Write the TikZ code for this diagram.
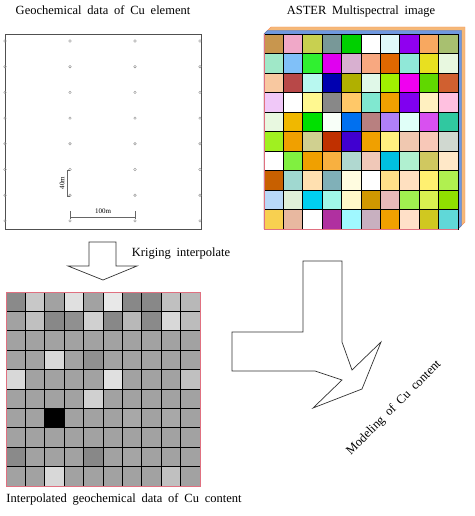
\documentclass[tikz,border=0pt]{standalone}
\usepackage{fontspec}
\setmainfont{Liberation Serif}
\usepackage{xcolor}
\usetikzlibrary{positioning}
\definecolor{framered}{HTML}{E07080}
\definecolor{bandorange}{HTML}{F5B878}
\definecolor{bandblue}{HTML}{6F98E0}
\definecolor{boxgray}{HTML}{505050}
\newcommand{\lblfont}{\fontsize{12.5}{14}\selectfont\spaceskip=5.8pt plus 1pt\relax}

\begin{document}
\begin{tikzpicture}[x=1pt, y=-1pt, node distance=0.3cm,
		lbl/.style={font=\lblfont, inner sep=0pt},
		smalllbl/.style={font=\fontsize{7}{8}\selectfont, inner sep=0.5pt},
		cell/.style={draw=black, line width=0.7pt},
		sample/.style={draw=black!45, line width=0.4pt},
		scalebar/.style={draw=black!60, line width=0.4pt},
		bigarrow/.style={draw=black!80, line width=0.7pt, fill=white, line join=miter}]
		\useasboundingbox (0,0) rectangle (474,516);
		
		% geochemical samples
		\node[draw=boxgray, line width=0.8pt, minimum width=196pt, minimum height=195pt, inner sep=0pt] (geo) at (103,131.5) {};
		\node[lbl, above=19pt of geo] (geo-title) {Geochemical data of Cu element};
		\foreach \xx in {5,70,135,200}
			\foreach \yy in {0,...,7}
				\draw[sample] (\xx,41+\yy*25.7) circle[radius=1.3pt];
		\draw[scalebar] (70,170) -- (66.7,170) -- (66.7,196) -- (70,196);
		\node[smalllbl, rotate=90] (len-v) at (62,183) {40m};
		\draw[scalebar] (70,217) -- (135,217);
		\draw[scalebar] (70,211) -- (70,219);
		\draw[scalebar] (135,211) -- (135,219);
		\node[smalllbl] (len-h) at (103,211) {100m};
		
		% ASTER image stack
		\filldraw[fill=bandorange, draw=bandorange!80!red] (264,229) -- (264,34) -- (271,27) -- (465,27) -- (465,222) -- (458,229) -- cycle;
		\filldraw[fill=bandblue, draw=bandblue!80!black] (264,229) -- (264,34) -- (267.5,30.5) -- (461.5,30.5) -- (461.5,225.5) -- (458,229) -- cycle;
		\foreach \row [count=\r from 0] in {
			{C8964E,F0A8C8,C8D050,789898,00D000,FFFFFF,E0FAFA,9000F0,F8A860,A8C070},
			{A0E8C8,80C0F8,30F030,E000F0,D8B0D0,F8A880,E06800,90E8D8,E8E020,E8F8E0},
			{F8C8A0,B84848,B8F8F0,0000B0,B0B000,E0F8E8,A0F000,F000F0,60D800,D06030},
			{F0C8F8,FFFFFF,FFF890,888888,FFC868,80E8D0,F0A000,8000F0,FFF0C0,FFC0E0},
			{E8F8E0,F0B800,00E000,F8FFF8,0070F0,B88080,B080F8,E0FFF8,D850F0,30C8A0},
			{A0F020,F0A000,D0D090,C03000,4000D0,F0A000,FFF080,F0C8B0,F8C8B8,D0D8D0},
			{FFFFFF,80F040,F0A000,F8B040,B0D8D0,F0C8B8,00C0E0,B0F0D0,D0C860,FFE8C8},
			{C86000,A0D8D0,FFE0B0,80B0B8,FFFCE0,FFFFFF,FFE088,FFE0C0,FFF070,B0F050},
			{B8D8F8,E0F0D8,00D0F0,A0F8E8,FFF8C8,D09800,E8B8B8,A0F050,D8F050,90E000},
			{F8D050,E8B8A0,FFFFFF,B030A0,A0F8FF,C8B0C0,F0A000,FFE0C8,D0C820,60D8D8}} {
			\foreach \c [count=\k from 0] in \row {
				\definecolor{cellfill}{HTML}{\c}
				\filldraw[cell, fill=cellfill] (264+\k*19.4,34+\r*19.5) rectangle ++(19.4,19.5);
			}
		}
		\draw[framered, line width=0.8pt] (264,34) -- (264,229) -- (458,229);
		\node[inner sep=0pt, minimum width=194pt, minimum height=195pt] (aster) at (361,131.5) {};
		\node[lbl, above=16.3pt of aster] (aster-title) {ASTER Multispectral image};
		
		% kriging step
		\draw[bigarrow] (89,242) -- (116,242) -- (116,266) -- (137,266) -- (103,280) -- (68,266) -- (89,266) -- cycle;
		\node[lbl, anchor=base] (krig) at (181,256) {Kriging interpolate};
		
		% interpolated grid
		\foreach \row [count=\r from 0] in {
			{8A8A8A,C8C8C8,A2A2A2,E0E0E0,A2A2A2,E8E8E8,888888,888888,C0C0C0,B8B8B8},
			{A2A2A2,C0C0C0,888888,909090,D0D0D0,888888,B8B8B8,8A8A8A,D8D8D8,BCBCBC},
			{A2A2A2,A2A2A2,A2A2A2,A2A2A2,A2A2A2,A2A2A2,A2A2A2,A2A2A2,A2A2A2,A2A2A2},
			{A2A2A2,A2A2A2,D8D8D8,A2A2A2,909090,A2A2A2,A2A2A2,A2A2A2,A2A2A2,A2A2A2},
			{D8D8D8,A2A2A2,A2A2A2,A2A2A2,A2A2A2,E0E0E0,A2A2A2,A2A2A2,A2A2A2,C0C0C0},
			{A2A2A2,A2A2A2,A2A2A2,A2A2A2,D0D0D0,A2A2A2,A2A2A2,A2A2A2,A2A2A2,A2A2A2},
			{A2A2A2,A2A2A2,000000,A2A2A2,A2A2A2,A2A2A2,A8A8A8,A2A2A2,A8A8A8,A2A2A2},
			{A2A2A2,A2A2A2,A2A2A2,A2A2A2,A2A2A2,A2A2A2,A2A2A2,A2A2A2,A2A2A2,A2A2A2},
			{8A8A8A,A2A2A2,A2A2A2,A2A2A2,888888,A2A2A2,A5A5A5,A2A2A2,A2A2A2,A2A2A2},
			{A2A2A2,A2A2A2,D8D8D8,A2A2A2,A2A2A2,A2A2A2,A2A2A2,A2A2A2,C0C0C0,A2A2A2}} {
			\foreach \c [count=\k from 0] in \row {
				\definecolor{cellfill}{HTML}{\c}
				\filldraw[cell, fill=cellfill] (6+\k*19.4,292+\r*19.4) rectangle ++(19.4,19.4);
			}
		}
		\draw[framered, line width=0.8pt] (6,292) rectangle (200,486);
		\node[lbl, anchor=base] (interp-title) at (124,502) {Interpolated geochemical data of Cu content};
		
		% modeling step
		\draw[bigarrow] (303,261) -- (342,261) -- (342,342) -- (352,370) -- (381,342) -- (362,389) -- (313,408) -- (342,380) -- (315,371) -- (232,371) -- (232,332) -- (303,332) -- cycle;
		\node[lbl, rotate=45] (model) at (394,408) {Modeling of Cu content};
		
	\end{tikzpicture}
\end{document}
